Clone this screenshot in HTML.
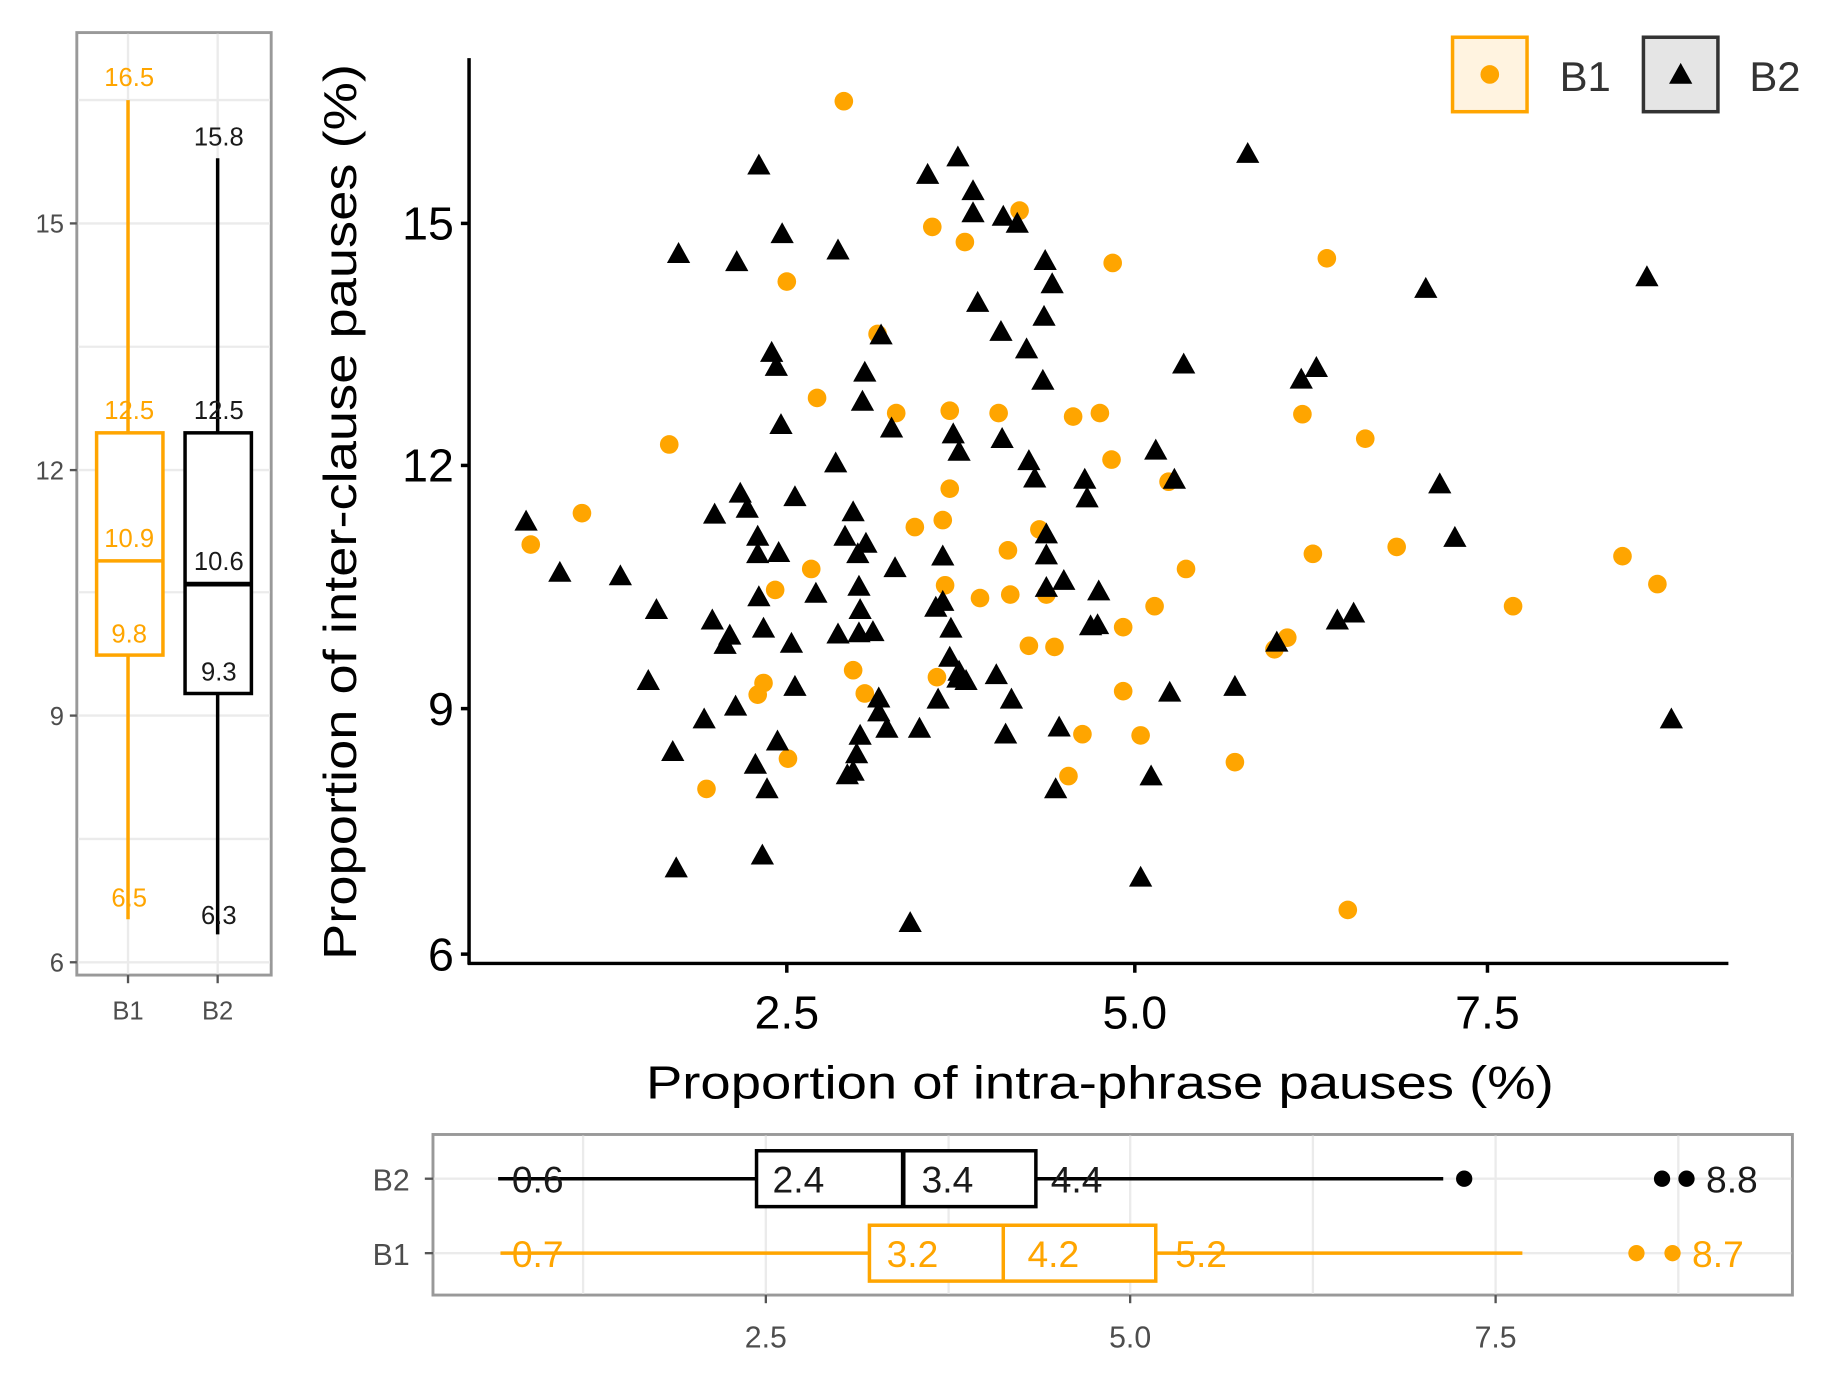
<!DOCTYPE html>
<html><head><meta charset="utf-8"><style>html,body{margin:0;padding:0;background:#fff}svg{display:block}</style></head>
<body>
<svg width="1825" height="1380" viewBox="0 0 1568 1186" preserveAspectRatio="none" xmlns="http://www.w3.org/2000/svg" font-family="Liberation Sans, sans-serif">
<defs>
<path id="t" d="M0,-10 L10,8 L-10,8 Z" fill="#000"/>
<circle id="c" r="8" fill="#FFA500"/>
</defs>
<!-- Left box panel -->
<rect x="66" y="28" width="167" height="810" fill="#fff" stroke="#999" stroke-width="2.5"/>
<g stroke="#ebebeb" stroke-width="2">
<line x1="67" x2="232" y1="86" y2="86"/><line x1="67" x2="232" y1="298" y2="298"/><line x1="67" x2="232" y1="509" y2="509"/><line x1="67" x2="232" y1="721" y2="721"/>
<line x1="67" x2="232" y1="192" y2="192"/><line x1="67" x2="232" y1="404" y2="404"/><line x1="67" x2="232" y1="615" y2="615"/><line x1="67" x2="232" y1="827" y2="827"/>
<line x1="110" x2="110" y1="29" y2="837"/><line x1="187" x2="187" y1="29" y2="837"/>
</g>
<g stroke="#555" stroke-width="2"><line x1="60" x2="66" y1="192" y2="192"/><line x1="60" x2="66" y1="404" y2="404"/><line x1="60" x2="66" y1="615" y2="615"/><line x1="60" x2="66" y1="827" y2="827"/>
<line x1="110" x2="110" y1="838" y2="845"/><line x1="187" x2="187" y1="838" y2="845"/></g>
<g font-size="22" fill="#4d4d4d" text-anchor="end"><text x="55" y="200">15</text><text x="55" y="412">12</text><text x="55" y="623">9</text><text x="55" y="835">6</text></g>
<g font-size="22" fill="#4d4d4d" text-anchor="middle"><text x="110" y="876">B1</text><text x="187" y="876">B2</text></g>
<g stroke="#FFA500" stroke-width="3" fill="#fff"><line x1="110" x2="110" y1="86" y2="790"/><rect x="83" y="372" width="57" height="191"/><line x1="83" x2="140" y1="482" y2="482"/></g>
<g stroke="#000" stroke-width="3" fill="#fff"><line x1="187" x2="187" y1="136" y2="803"/><rect x="159" y="372" width="57" height="224"/><line x1="159" x2="216" y1="502" y2="502" stroke-width="4"/></g>
<g font-size="22" fill="#FFA500" text-anchor="middle"><text x="111" y="74">16.5</text><text x="111" y="360">12.5</text><text x="111" y="470">10.9</text><text x="111" y="552">9.8</text><text x="111" y="779">6.5</text></g>
<g font-size="22" fill="#1a1a1a" text-anchor="middle"><text x="188" y="125">15.8</text><text x="188" y="360">12.5</text><text x="188" y="490">10.6</text><text x="188" y="585">9.3</text><text x="188" y="794">6.3</text></g>

<!-- Main scatter axes -->
<g stroke="#000" stroke-width="3"><line x1="403" x2="403" y1="50" y2="829"/><line x1="402" x2="1485" y1="828" y2="828"/>
<line x1="396" x2="403" y1="192" y2="192"/><line x1="396" x2="403" y1="400" y2="400"/><line x1="396" x2="403" y1="609" y2="609"/><line x1="396" x2="403" y1="820" y2="820"/>
<line x1="676" x2="676" y1="828" y2="836"/><line x1="975" x2="975" y1="828" y2="836"/><line x1="1278" x2="1278" y1="828" y2="836"/></g>
<g font-size="40" fill="#000" text-anchor="end"><text x="390" y="206">15</text><text x="390" y="414">12</text><text x="390" y="623">9</text><text x="390" y="834">6</text></g>
<g font-size="40" fill="#000" text-anchor="middle"><text x="676" y="884">2.5</text><text x="975" y="884">5.0</text><text x="1278" y="884">7.5</text></g>
<text x="945" y="944" font-size="40" text-anchor="middle" textLength="780" lengthAdjust="spacingAndGlyphs">Proportion of intra-phrase pauses (%)</text>
<text transform="translate(306,440) rotate(-90)" font-size="40" text-anchor="middle" textLength="770" lengthAdjust="spacingAndGlyphs">Proportion of inter-clause pauses (%)</text>

<!-- Legend -->
<rect x="1248" y="32" width="64" height="64" fill="#fff3e0" stroke="#FFA500" stroke-width="3"/>
<use href="#c" x="1280" y="64"/>
<text x="1340" y="78" font-size="36" fill="#333">B1</text>
<rect x="1412" y="32" width="64" height="64" fill="#e5e5e5" stroke="#333" stroke-width="3"/>
<use href="#t" x="1444" y="64"/>
<text x="1503" y="78" font-size="36" fill="#333">B2</text>

<!-- orange points -->
<g>
<use href="#c" x="725" y="87"/><use href="#c" x="876" y="181"/><use href="#c" x="801" y="195"/><use href="#c" x="829" y="208"/><use href="#c" x="676" y="242"/><use href="#c" x="956" y="226"/><use href="#c" x="1140" y="222"/><use href="#c" x="754" y="287"/><use href="#c" x="702" y="342"/><use href="#c" x="770" y="355"/><use href="#c" x="816" y="353"/><use href="#c" x="858" y="355"/><use href="#c" x="922" y="358"/><use href="#c" x="945" y="355"/><use href="#c" x="575" y="382"/><use href="#c" x="1119" y="356"/><use href="#c" x="1173" y="377"/><use href="#c" x="955" y="395"/><use href="#c" x="1004" y="414"/><use href="#c" x="816" y="420"/><use href="#c" x="500" y="441"/><use href="#c" x="456" y="468"/><use href="#c" x="786" y="453"/><use href="#c" x="810" y="447"/><use href="#c" x="893" y="455"/><use href="#c" x="866" y="473"/><use href="#c" x="1128" y="476"/><use href="#c" x="1200" y="470"/><use href="#c" x="1394" y="478"/><use href="#c" x="697" y="489"/><use href="#c" x="1019" y="489"/><use href="#c" x="812" y="503"/><use href="#c" x="666" y="507"/><use href="#c" x="842" y="514"/><use href="#c" x="868" y="511"/><use href="#c" x="899" y="511"/><use href="#c" x="1424" y="502"/><use href="#c" x="1300" y="521"/><use href="#c" x="992" y="521"/><use href="#c" x="965" y="539"/><use href="#c" x="1106" y="548"/><use href="#c" x="1095" y="558"/><use href="#c" x="884" y="555"/><use href="#c" x="906" y="556"/><use href="#c" x="733" y="576"/><use href="#c" x="805" y="582"/><use href="#c" x="656" y="587"/><use href="#c" x="651" y="597"/><use href="#c" x="743" y="596"/><use href="#c" x="965" y="594"/><use href="#c" x="930" y="631"/><use href="#c" x="980" y="632"/><use href="#c" x="677" y="652"/><use href="#c" x="1061" y="655"/><use href="#c" x="607" y="678"/><use href="#c" x="918" y="667"/><use href="#c" x="1158" y="782"/>
</g>
<!-- black triangles -->
<g>
<use href="#t" x="652" y="142"/><use href="#t" x="823" y="135"/><use href="#t" x="1072" y="132"/><use href="#t" x="797" y="150"/><use href="#t" x="836" y="164"/><use href="#t" x="836" y="183"/><use href="#t" x="862" y="186"/><use href="#t" x="874" y="192"/><use href="#t" x="672" y="201"/><use href="#t" x="720" y="215"/><use href="#t" x="583" y="218"/><use href="#t" x="633" y="225"/><use href="#t" x="898" y="224"/><use href="#t" x="904" y="244"/><use href="#t" x="1415" y="238"/><use href="#t" x="1225" y="248"/><use href="#t" x="840" y="260"/><use href="#t" x="897" y="272"/><use href="#t" x="860" y="285"/><use href="#t" x="757" y="288"/><use href="#t" x="882" y="300"/><use href="#t" x="663" y="303"/><use href="#t" x="667" y="315"/><use href="#t" x="743" y="320"/><use href="#t" x="1017" y="313"/><use href="#t" x="1131" y="316"/><use href="#t" x="1118" y="326"/><use href="#t" x="896" y="327"/><use href="#t" x="741" y="345"/><use href="#t" x="766" y="368"/><use href="#t" x="671" y="365"/><use href="#t" x="819" y="373"/><use href="#t" x="824" y="388"/><use href="#t" x="993" y="387"/><use href="#t" x="861" y="377"/><use href="#t" x="718" y="398"/><use href="#t" x="884" y="396"/><use href="#t" x="889" y="411"/><use href="#t" x="1009" y="412"/><use href="#t" x="1237" y="416"/><use href="#t" x="932" y="412"/><use href="#t" x="934" y="428"/><use href="#t" x="636" y="424"/><use href="#t" x="683" y="427"/><use href="#t" x="614" y="442"/><use href="#t" x="642" y="437"/><use href="#t" x="733" y="440"/><use href="#t" x="1250" y="462"/><use href="#t" x="452" y="448"/><use href="#t" x="651" y="461"/><use href="#t" x="651" y="476"/><use href="#t" x="669" y="475"/><use href="#t" x="726" y="461"/><use href="#t" x="744" y="467"/><use href="#t" x="481" y="492"/><use href="#t" x="533" y="495"/><use href="#t" x="810" y="478"/><use href="#t" x="899" y="459"/><use href="#t" x="899" y="477"/><use href="#t" x="769" y="488"/><use href="#t" x="737" y="476"/><use href="#t" x="701" y="510"/><use href="#t" x="738" y="504"/><use href="#t" x="652" y="513"/><use href="#t" x="564" y="524"/><use href="#t" x="739" y="524"/><use href="#t" x="810" y="517"/><use href="#t" x="914" y="499"/><use href="#t" x="899" y="505"/><use href="#t" x="944" y="508"/><use href="#t" x="612" y="533"/><use href="#t" x="627" y="546"/><use href="#t" x="656" y="540"/><use href="#t" x="738" y="544"/><use href="#t" x="720" y="545"/><use href="#t" x="750" y="543"/><use href="#t" x="937" y="538"/><use href="#t" x="943" y="537"/><use href="#t" x="804" y="522"/><use href="#t" x="817" y="540"/><use href="#t" x="680" y="553"/><use href="#t" x="623" y="554"/><use href="#t" x="1149" y="533"/><use href="#t" x="1163" y="527"/><use href="#t" x="1097" y="552"/><use href="#t" x="557" y="585"/><use href="#t" x="683" y="590"/><use href="#t" x="816" y="565"/><use href="#t" x="824" y="577"/><use href="#t" x="830" y="585"/><use href="#t" x="856" y="580"/><use href="#t" x="823" y="583"/><use href="#t" x="806" y="601"/><use href="#t" x="869" y="601"/><use href="#t" x="755" y="600"/><use href="#t" x="1005" y="595"/><use href="#t" x="1061" y="590"/><use href="#t" x="605" y="618"/><use href="#t" x="632" y="607"/><use href="#t" x="755" y="612"/><use href="#t" x="739" y="632"/><use href="#t" x="762" y="626"/><use href="#t" x="790" y="626"/><use href="#t" x="864" y="631"/><use href="#t" x="910" y="625"/><use href="#t" x="578" y="646"/><use href="#t" x="668" y="637"/><use href="#t" x="736" y="648"/><use href="#t" x="649" y="657"/><use href="#t" x="733" y="663"/><use href="#t" x="728" y="666"/><use href="#t" x="659" y="678"/><use href="#t" x="907" y="678"/><use href="#t" x="989" y="667"/><use href="#t" x="1436" y="618"/><use href="#t" x="655" y="735"/><use href="#t" x="581" y="746"/><use href="#t" x="980" y="754"/><use href="#t" x="782" y="793"/>
</g>

<!-- Bottom box panel -->
<rect x="372" y="975" width="1168" height="138" fill="#fff" stroke="#999" stroke-width="2.5"/>
<g stroke="#ebebeb" stroke-width="2">
<line x1="501" x2="501" y1="976" y2="1112"/><line x1="815" x2="815" y1="976" y2="1112"/><line x1="1128" x2="1128" y1="976" y2="1112"/><line x1="1442" x2="1442" y1="976" y2="1112"/>
<line x1="658" x2="658" y1="976" y2="1112"/><line x1="971" x2="971" y1="976" y2="1112"/><line x1="1285" x2="1285" y1="976" y2="1112"/>
<line x1="373" x2="1539" y1="1013" y2="1013"/><line x1="373" x2="1539" y1="1077" y2="1077"/>
</g>
<g stroke="#555" stroke-width="2"><line x1="365" x2="372" y1="1013" y2="1013"/><line x1="365" x2="372" y1="1077" y2="1077"/>
<line x1="658" x2="658" y1="1113" y2="1120"/><line x1="971" x2="971" y1="1113" y2="1120"/><line x1="1285" x2="1285" y1="1113" y2="1120"/></g>
<g font-size="26" fill="#4d4d4d" text-anchor="end"><text x="352" y="1023">B2</text><text x="352" y="1087">B1</text></g>
<g font-size="26" fill="#4d4d4d" text-anchor="middle"><text x="658" y="1158">2.5</text><text x="971" y="1158">5.0</text><text x="1285" y="1158">7.5</text></g>
<g stroke="#000" stroke-width="3" fill="#fff"><line x1="428" x2="1240" y1="1013" y2="1013"/><rect x="650" y="989" width="240" height="48"/><line x1="776" x2="776" y1="989" y2="1037" stroke-width="4"/></g>
<g fill="#000"><circle cx="1258" cy="1013" r="7"/><circle cx="1428" cy="1013" r="7"/><circle cx="1449" cy="1013" r="7"/></g>
<g stroke="#FFA500" stroke-width="3" fill="#fff"><line x1="430" x2="1308" y1="1077" y2="1077"/><rect x="747" y="1053" width="246" height="48"/><line x1="862" x2="862" y1="1053" y2="1101"/></g>
<g fill="#FFA500"><circle cx="1406" cy="1077" r="7"/><circle cx="1437" cy="1077" r="7"/></g>
<g font-size="32" fill="#1a1a1a" text-anchor="middle"><text x="462" y="1025">0.6</text><text x="686" y="1025">2.4</text><text x="814" y="1025">3.4</text><text x="925" y="1025">4.4</text><text x="1488" y="1025">8.8</text></g>
<g font-size="32" fill="#FFA500" text-anchor="middle"><text x="462" y="1089">0.7</text><text x="784" y="1089">3.2</text><text x="905" y="1089">4.2</text><text x="1032" y="1089">5.2</text><text x="1476" y="1089">8.7</text></g>
</svg>
</body></html>
